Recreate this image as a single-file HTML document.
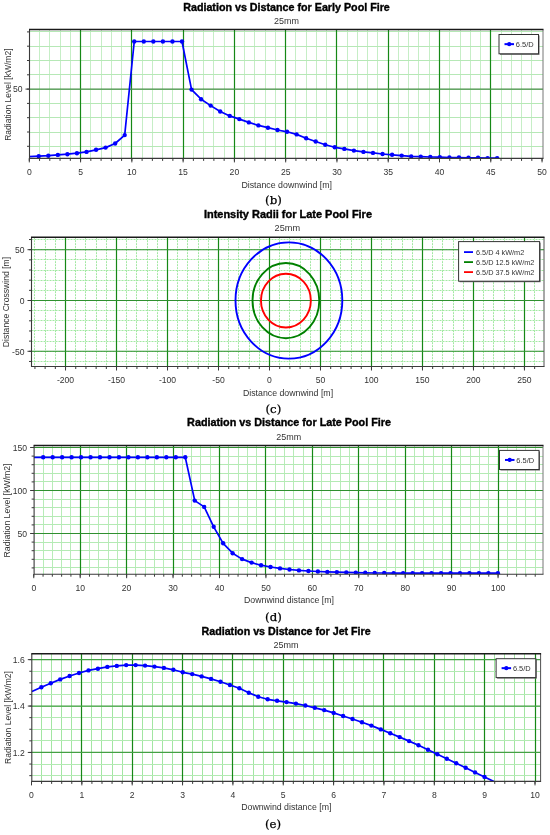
<!DOCTYPE html>
<html><head><meta charset="utf-8"><title>Charts</title><style>html,body{margin:0;padding:0;background:#fff;width:550px;height:835px;overflow:hidden}
svg{display:block}
.tt{font-family:'Liberation Sans', Arial, sans-serif;font-weight:bold;font-size:10px;fill:#000;stroke:#000;stroke-width:0.35px}
.st{font-family:'Liberation Sans', Arial, sans-serif;font-size:9px;fill:#333}
.at{font-family:'Liberation Sans', Arial, sans-serif;font-size:9px;fill:#333}
.tl{font-family:'Liberation Sans', Arial, sans-serif;font-size:8.6px;fill:#333}
.lg{font-family:'Liberation Sans', Arial, sans-serif;font-size:7.7px;fill:#333}
.lg2{font-family:'Liberation Sans', Arial, sans-serif;font-size:7.3px;fill:#333}
.pl{font-family:'DejaVu Serif',serif;font-size:11.8px;fill:#000;stroke:#000;stroke-width:0.25px}
</style></head>
<body><svg width="550" height="835" viewBox="0 0 550 835"><rect width="550" height="835" fill="#fff"/><path d="M39.5 29.6V158.4M49.5 29.6V158.4M60.5 29.6V158.4M70.5 29.6V158.4M80.5 29.6V158.4M90.5 29.6V158.4M101.5 29.6V158.4M111.5 29.6V158.4M121.5 29.6V158.4M131.5 29.6V158.4M142.5 29.6V158.4M152.5 29.6V158.4M162.5 29.6V158.4M172.5 29.6V158.4M183.5 29.6V158.4M193.5 29.6V158.4M203.5 29.6V158.4M213.5 29.6V158.4M224.5 29.6V158.4M234.5 29.6V158.4M244.5 29.6V158.4M254.5 29.6V158.4M265.5 29.6V158.4M275.5 29.6V158.4M285.5 29.6V158.4M295.5 29.6V158.4M306.5 29.6V158.4M316.5 29.6V158.4M326.5 29.6V158.4M336.5 29.6V158.4M347.5 29.6V158.4M357.5 29.6V158.4M367.5 29.6V158.4M377.5 29.6V158.4M388.5 29.6V158.4M398.5 29.6V158.4M408.5 29.6V158.4M418.5 29.6V158.4M429.5 29.6V158.4M439.5 29.6V158.4M449.5 29.6V158.4M460.5 29.6V158.4M470.5 29.6V158.4M480.5 29.6V158.4M490.5 29.6V158.4M501.5 29.6V158.4M511.5 29.6V158.4M521.5 29.6V158.4M531.5 29.6V158.4" stroke="#c6eec6" stroke-width="1" fill="none" /><path d="M29.5 146.5H543M29.5 132.5H543M29.5 117.5H543M29.5 103.5H543M29.5 89.5H543M29.5 74.5H543M29.5 60.5H543M29.5 46.5H543M29.5 31.5H543" stroke="#b6e8b6" stroke-width="1" fill="none" /><path d="M80.5 29.6V158.4M131.5 29.6V158.4M183.5 29.6V158.4M234.5 29.6V158.4M285.5 29.6V158.4M336.5 29.6V158.4M388.5 29.6V158.4M439.5 29.6V158.4M490.5 29.6V158.4" stroke="#168816" stroke-width="1.2" fill="none"/><path d="M29.5 89.1H543" stroke="#4a904a" stroke-width="1.1" fill="none"/><path d="M29.3 158.4v2.5M39.55 158.4v2.5M49.81 158.4v2.5M60.06 158.4v2.5M70.32 158.4v2.5M80.58 158.4v2.5M90.83 158.4v2.5M101.09 158.4v2.5M111.34 158.4v2.5M121.59 158.4v2.5M131.85 158.4v2.5M142.11 158.4v2.5M152.36 158.4v2.5M162.62 158.4v2.5M172.87 158.4v2.5M183.13 158.4v2.5M193.38 158.4v2.5M203.64 158.4v2.5M213.89 158.4v2.5M224.15 158.4v2.5M234.4 158.4v2.5M244.66 158.4v2.5M254.91 158.4v2.5M265.17 158.4v2.5M275.42 158.4v2.5M285.68 158.4v2.5M295.93 158.4v2.5M306.19 158.4v2.5M316.44 158.4v2.5M326.7 158.4v2.5M336.95 158.4v2.5M347.21 158.4v2.5M357.46 158.4v2.5M367.72 158.4v2.5M377.97 158.4v2.5M388.23 158.4v2.5M398.48 158.4v2.5M408.74 158.4v2.5M418.99 158.4v2.5M429.25 158.4v2.5M439.5 158.4v2.5M449.76 158.4v2.5M460.01 158.4v2.5M470.27 158.4v2.5M480.52 158.4v2.5M490.78 158.4v2.5M501.03 158.4v2.5M511.29 158.4v2.5M521.54 158.4v2.5M531.8 158.4v2.5M542.05 158.4v2.5M29.3 158.4v4M80.58 158.4v4M131.85 158.4v4M183.13 158.4v4M234.4 158.4v4M285.68 158.4v4M336.95 158.4v4M388.23 158.4v4M439.5 158.4v4M490.78 158.4v4M542.05 158.4v4M29.5 146.3h-2.5M29.5 132h-2.5M29.5 117.7h-2.5M29.5 103.4h-2.5M29.5 89.1h-2.5M29.5 74.8h-2.5M29.5 60.5h-2.5M29.5 46.2h-2.5M29.5 31.9h-2.5M29.5 89.1h-4" stroke="#3a3a3a" stroke-width="1" fill="none"/><clipPath id="c1"><rect x="29.5" y="29.5" width="513.5" height="128.9"/></clipPath><g clip-path="url(#c1)"><path d="M29.2 156.7 L38.75 156.2 L48.3 155.7 L57.85 154.9 L67.4 154.2 L76.95 153.2 L86.5 151.9 L96.05 149.8 L105.6 147.6 L115.15 143.5 L124.7 135.1 L134.25 41.5 L143.8 41.5 L153.35 41.5 L162.9 41.5 L172.45 41.5 L182 41.5 L191.55 89.6 L201.1 99.2 L210.65 105.6 L220.2 111.5 L229.75 115.9 L239.3 119.1 L248.85 122.4 L258.4 125.4 L267.95 127.7 L277.5 130 L287.05 131.8 L296.6 134.4 L306.15 138.2 L315.7 141.5 L325.25 144.8 L334.8 147.3 L344.35 148.9 L353.9 150.6 L363.45 151.9 L373 152.9 L382.55 154 L392.1 154.8 L401.65 155.6 L411.2 156.4 L420.75 156.7 L430.3 157 L439.85 157.2 L449.4 157.5 L458.95 157.5 L468.5 157.8 L478.05 157.8 L487.6 158.1 L497.15 158.1" stroke="#0000ff" stroke-width="1.7" fill="none" stroke-linejoin="round"/><circle cx="38.75" cy="156.2" r="2.2" fill="#0000ff"/><circle cx="48.3" cy="155.7" r="2.2" fill="#0000ff"/><circle cx="57.85" cy="154.9" r="2.2" fill="#0000ff"/><circle cx="67.4" cy="154.2" r="2.2" fill="#0000ff"/><circle cx="76.95" cy="153.2" r="2.2" fill="#0000ff"/><circle cx="86.5" cy="151.9" r="2.2" fill="#0000ff"/><circle cx="96.05" cy="149.8" r="2.2" fill="#0000ff"/><circle cx="105.6" cy="147.6" r="2.2" fill="#0000ff"/><circle cx="115.15" cy="143.5" r="2.2" fill="#0000ff"/><circle cx="124.7" cy="135.1" r="2.2" fill="#0000ff"/><circle cx="134.25" cy="41.5" r="2.2" fill="#0000ff"/><circle cx="143.8" cy="41.5" r="2.2" fill="#0000ff"/><circle cx="153.35" cy="41.5" r="2.2" fill="#0000ff"/><circle cx="162.9" cy="41.5" r="2.2" fill="#0000ff"/><circle cx="172.45" cy="41.5" r="2.2" fill="#0000ff"/><circle cx="182" cy="41.5" r="2.2" fill="#0000ff"/><circle cx="191.55" cy="89.6" r="2.2" fill="#0000ff"/><circle cx="201.1" cy="99.2" r="2.2" fill="#0000ff"/><circle cx="210.65" cy="105.6" r="2.2" fill="#0000ff"/><circle cx="220.2" cy="111.5" r="2.2" fill="#0000ff"/><circle cx="229.75" cy="115.9" r="2.2" fill="#0000ff"/><circle cx="239.3" cy="119.1" r="2.2" fill="#0000ff"/><circle cx="248.85" cy="122.4" r="2.2" fill="#0000ff"/><circle cx="258.4" cy="125.4" r="2.2" fill="#0000ff"/><circle cx="267.95" cy="127.7" r="2.2" fill="#0000ff"/><circle cx="277.5" cy="130" r="2.2" fill="#0000ff"/><circle cx="287.05" cy="131.8" r="2.2" fill="#0000ff"/><circle cx="296.6" cy="134.4" r="2.2" fill="#0000ff"/><circle cx="306.15" cy="138.2" r="2.2" fill="#0000ff"/><circle cx="315.7" cy="141.5" r="2.2" fill="#0000ff"/><circle cx="325.25" cy="144.8" r="2.2" fill="#0000ff"/><circle cx="334.8" cy="147.3" r="2.2" fill="#0000ff"/><circle cx="344.35" cy="148.9" r="2.2" fill="#0000ff"/><circle cx="353.9" cy="150.6" r="2.2" fill="#0000ff"/><circle cx="363.45" cy="151.9" r="2.2" fill="#0000ff"/><circle cx="373" cy="152.9" r="2.2" fill="#0000ff"/><circle cx="382.55" cy="154" r="2.2" fill="#0000ff"/><circle cx="392.1" cy="154.8" r="2.2" fill="#0000ff"/><circle cx="401.65" cy="155.6" r="2.2" fill="#0000ff"/><circle cx="411.2" cy="156.4" r="2.2" fill="#0000ff"/><circle cx="420.75" cy="156.7" r="2.2" fill="#0000ff"/><circle cx="430.3" cy="157" r="2.2" fill="#0000ff"/><circle cx="439.85" cy="157.2" r="2.2" fill="#0000ff"/><circle cx="449.4" cy="157.5" r="2.2" fill="#0000ff"/><circle cx="458.95" cy="157.5" r="2.2" fill="#0000ff"/><circle cx="468.5" cy="157.8" r="2.2" fill="#0000ff"/><circle cx="478.05" cy="157.8" r="2.2" fill="#0000ff"/><circle cx="487.6" cy="158.1" r="2.2" fill="#0000ff"/><circle cx="497.15" cy="158.1" r="2.2" fill="#0000ff"/></g><path d="M543 29.6V158.4" stroke="#777" stroke-width="1"/><path d="M29.5 29.6V158.4H543.5" stroke="#3a3a3a" stroke-width="1.1" fill="none"/><path d="M29 29.6H543.5" stroke="#1a1a1a" stroke-width="1.5"/><text x="29.3" y="174.7" text-anchor="middle" class="tl">0</text><text x="80.58" y="174.7" text-anchor="middle" class="tl">5</text><text x="131.85" y="174.7" text-anchor="middle" class="tl">10</text><text x="183.13" y="174.7" text-anchor="middle" class="tl">15</text><text x="234.4" y="174.7" text-anchor="middle" class="tl">20</text><text x="285.68" y="174.7" text-anchor="middle" class="tl">25</text><text x="336.95" y="174.7" text-anchor="middle" class="tl">30</text><text x="388.23" y="174.7" text-anchor="middle" class="tl">35</text><text x="439.5" y="174.7" text-anchor="middle" class="tl">40</text><text x="490.78" y="174.7" text-anchor="middle" class="tl">45</text><text x="542.05" y="174.7" text-anchor="middle" class="tl">50</text><text x="22.5" y="92.3" text-anchor="end" class="tl">50</text><text x="183.2" y="10.9" textLength="206.6" lengthAdjust="spacingAndGlyphs" class="tt">Radiation vs Distance for Early Pool Fire</text><text x="274" y="23.6" textLength="24.9" lengthAdjust="spacingAndGlyphs" class="st">25mm</text><text x="241.4" y="187.7" textLength="90.6" lengthAdjust="spacingAndGlyphs" class="at">Distance downwind [m]</text><text transform="translate(11.2 140.8) rotate(-90)" x="0" y="0" textLength="92.3" lengthAdjust="spacingAndGlyphs" class="at">Radiation Level [kW/m2]</text><text x="273.5" y="203.6" text-anchor="middle" class="pl">(b)</text><rect x="500" y="35.5" width="39.5" height="19.3" fill="#666"/><rect x="499" y="34.5" width="39.5" height="19.3" fill="#fff" stroke="#333" stroke-width="1"/><path d="M504.5 44.15H514" stroke="#0000ff" stroke-width="2"/><circle cx="509.2" cy="44.15" r="2.1" fill="#0000ff"/><text x="515.8" y="46.95" textLength="17.8" lengthAdjust="spacingAndGlyphs" class="lg">6.5/D</text><path d="M34.5 237.2V366.5M45.5 237.2V366.5M55.5 237.2V366.5M65.5 237.2V366.5M75.5 237.2V366.5M85.5 237.2V366.5M96.5 237.2V366.5M106.5 237.2V366.5M116.5 237.2V366.5M126.5 237.2V366.5M136.5 237.2V366.5M147.5 237.2V366.5M157.5 237.2V366.5M167.5 237.2V366.5M177.5 237.2V366.5M187.5 237.2V366.5M198.5 237.2V366.5M208.5 237.2V366.5M218.5 237.2V366.5M228.5 237.2V366.5M238.5 237.2V366.5M249.5 237.2V366.5M259.5 237.2V366.5M269.5 237.2V366.5M279.5 237.2V366.5M289.5 237.2V366.5M300.5 237.2V366.5M310.5 237.2V366.5M320.5 237.2V366.5M330.5 237.2V366.5M340.5 237.2V366.5M351.5 237.2V366.5M361.5 237.2V366.5M371.5 237.2V366.5M381.5 237.2V366.5M391.5 237.2V366.5M402.5 237.2V366.5M412.5 237.2V366.5M422.5 237.2V366.5M432.5 237.2V366.5M442.5 237.2V366.5M453.5 237.2V366.5M463.5 237.2V366.5M473.5 237.2V366.5M483.5 237.2V366.5M493.5 237.2V366.5M504.5 237.2V366.5M514.5 237.2V366.5M524.5 237.2V366.5M534.5 237.2V366.5" stroke="#a2e8a2" stroke-width="1" fill="none" stroke-dasharray="2 1"/><path d="M31.5 361.5H544M31.5 351.5H544M31.5 341.5H544M31.5 330.5H544M31.5 320.5H544M31.5 310.5H544M31.5 300.5H544M31.5 290.5H544M31.5 280.5H544M31.5 270.5H544M31.5 259.5H544M31.5 249.5H544M31.5 239.5H544" stroke="#a2e8a2" stroke-width="1" fill="none" stroke-dasharray="2 1"/><path d="M65.5 237.2V366.5M116.5 237.2V366.5M167.5 237.2V366.5M218.5 237.2V366.5M269.5 237.2V366.5M320.5 237.2V366.5M371.5 237.2V366.5M422.5 237.2V366.5M473.5 237.2V366.5M524.5 237.2V366.5" stroke="#168816" stroke-width="1.2" fill="none"/><path d="M31.5 351.3H544M31.5 300.5H544M31.5 249.7H544" stroke="#2f8f2f" stroke-width="1.1" fill="none"/><path d="M34.95 366.5v2.5M45.14 366.5v2.5M55.34 366.5v2.5M65.54 366.5v2.5M75.74 366.5v2.5M85.94 366.5v2.5M96.13 366.5v2.5M106.33 366.5v2.5M116.53 366.5v2.5M126.73 366.5v2.5M136.93 366.5v2.5M147.12 366.5v2.5M157.32 366.5v2.5M167.52 366.5v2.5M177.72 366.5v2.5M187.92 366.5v2.5M198.11 366.5v2.5M208.31 366.5v2.5M218.51 366.5v2.5M228.71 366.5v2.5M238.91 366.5v2.5M249.1 366.5v2.5M259.3 366.5v2.5M269.5 366.5v2.5M279.7 366.5v2.5M289.9 366.5v2.5M300.09 366.5v2.5M310.29 366.5v2.5M320.49 366.5v2.5M330.69 366.5v2.5M340.89 366.5v2.5M351.08 366.5v2.5M361.28 366.5v2.5M371.48 366.5v2.5M381.68 366.5v2.5M391.88 366.5v2.5M402.07 366.5v2.5M412.27 366.5v2.5M422.47 366.5v2.5M432.67 366.5v2.5M442.87 366.5v2.5M453.06 366.5v2.5M463.26 366.5v2.5M473.46 366.5v2.5M483.66 366.5v2.5M493.86 366.5v2.5M504.05 366.5v2.5M514.25 366.5v2.5M524.45 366.5v2.5M534.65 366.5v2.5M65.54 366.5v4M116.53 366.5v4M167.52 366.5v4M218.51 366.5v4M269.5 366.5v4M320.49 366.5v4M371.48 366.5v4M422.47 366.5v4M473.46 366.5v4M524.45 366.5v4M31.5 361.46h-2.5M31.5 351.3h-2.5M31.5 341.14h-2.5M31.5 330.98h-2.5M31.5 320.82h-2.5M31.5 310.66h-2.5M31.5 300.5h-2.5M31.5 290.34h-2.5M31.5 280.18h-2.5M31.5 270.02h-2.5M31.5 259.86h-2.5M31.5 249.7h-2.5M31.5 239.54h-2.5M31.5 351.3h-4M31.5 300.5h-4M31.5 249.7h-4" stroke="#3a3a3a" stroke-width="1" fill="none"/><ellipse cx="288.9" cy="300.5" rx="53.4" ry="58.1" fill="none" stroke="#0000ff" stroke-width="1.9"/><ellipse cx="285.9" cy="300.6" rx="33.4" ry="37.6" fill="none" stroke="#008000" stroke-width="1.9"/><ellipse cx="285.9" cy="300.6" rx="24.95" ry="26.85" fill="none" stroke="#ff0000" stroke-width="1.9"/><path d="M544 237.2V366.5" stroke="#505050" stroke-width="1"/><path d="M31.5 237.2V366.5H544.5" stroke="#3a3a3a" stroke-width="1.1" fill="none"/><path d="M31 237.2H544.5" stroke="#1a1a1a" stroke-width="1.5"/><text x="65.54" y="382.9" text-anchor="middle" class="tl">-200</text><text x="116.53" y="382.9" text-anchor="middle" class="tl">-150</text><text x="167.52" y="382.9" text-anchor="middle" class="tl">-100</text><text x="218.51" y="382.9" text-anchor="middle" class="tl">-50</text><text x="269.5" y="382.9" text-anchor="middle" class="tl">0</text><text x="320.49" y="382.9" text-anchor="middle" class="tl">50</text><text x="371.48" y="382.9" text-anchor="middle" class="tl">100</text><text x="422.47" y="382.9" text-anchor="middle" class="tl">150</text><text x="473.46" y="382.9" text-anchor="middle" class="tl">200</text><text x="524.45" y="382.9" text-anchor="middle" class="tl">250</text><text x="24.5" y="252.9" text-anchor="end" class="tl">50</text><text x="24.5" y="303.7" text-anchor="end" class="tl">0</text><text x="24.5" y="354.5" text-anchor="end" class="tl">-50</text><text x="203.9" y="218.4" textLength="168.1" lengthAdjust="spacingAndGlyphs" class="tt">Intensity Radii for Late Pool Fire</text><text x="274.6" y="231.3" textLength="25.5" lengthAdjust="spacingAndGlyphs" class="st">25mm</text><text x="242.9" y="395.6" textLength="90.2" lengthAdjust="spacingAndGlyphs" class="at">Distance downwind [m]</text><text transform="translate(8.9 347.2) rotate(-90)" x="0" y="0" textLength="90.3" lengthAdjust="spacingAndGlyphs" class="at">Distance Crosswind [m]</text><text x="273.4" y="413.2" text-anchor="middle" class="pl">(c)</text><rect x="459.6" y="242.6" width="81" height="39.6" fill="#666"/><rect x="458.6" y="241.6" width="81" height="39.6" fill="#fff" stroke="#333" stroke-width="1"/><path d="M464 252.1H473" stroke="#0000ff" stroke-width="1.8"/><text x="476" y="255" class="lg2">6.5/D 4 kW/m2</text><path d="M464 262.1H473" stroke="#008000" stroke-width="1.8"/><text x="476" y="265" class="lg2">6.5/D 12.5 kW/m2</text><path d="M464 272.1H473" stroke="#ff0000" stroke-width="1.8"/><text x="476" y="275" class="lg2">6.5/D 37.5 kW/m2</text><path d="M43.5 445.6V574.2M52.5 445.6V574.2M61.5 445.6V574.2M70.5 445.6V574.2M80.5 445.6V574.2M89.5 445.6V574.2M98.5 445.6V574.2M108.5 445.6V574.2M117.5 445.6V574.2M126.5 445.6V574.2M135.5 445.6V574.2M145.5 445.6V574.2M154.5 445.6V574.2M163.5 445.6V574.2M173.5 445.6V574.2M182.5 445.6V574.2M191.5 445.6V574.2M200.5 445.6V574.2M210.5 445.6V574.2M219.5 445.6V574.2M228.5 445.6V574.2M238.5 445.6V574.2M247.5 445.6V574.2M256.5 445.6V574.2M265.5 445.6V574.2M275.5 445.6V574.2M284.5 445.6V574.2M293.5 445.6V574.2M303.5 445.6V574.2M312.5 445.6V574.2M321.5 445.6V574.2M330.5 445.6V574.2M340.5 445.6V574.2M349.5 445.6V574.2M358.5 445.6V574.2M368.5 445.6V574.2M377.5 445.6V574.2M386.5 445.6V574.2M395.5 445.6V574.2M405.5 445.6V574.2M414.5 445.6V574.2M423.5 445.6V574.2M433.5 445.6V574.2M442.5 445.6V574.2M451.5 445.6V574.2M460.5 445.6V574.2M470.5 445.6V574.2M479.5 445.6V574.2M488.5 445.6V574.2M498.5 445.6V574.2M507.5 445.6V574.2M516.5 445.6V574.2M525.5 445.6V574.2M535.5 445.6V574.2" stroke="#b8ecb8" stroke-width="1" fill="none" /><path d="M34.1 567.5H543M34.1 559.5H543M34.1 550.5H543M34.1 542.5H543M34.1 533.5H543M34.1 524.5H543M34.1 516.5H543M34.1 507.5H543M34.1 499.5H543M34.1 490.5H543M34.1 481.5H543M34.1 473.5H543M34.1 464.5H543M34.1 456.5H543M34.1 447.5H543" stroke="#b4eab4" stroke-width="1" fill="none" /><path d="M80.5 445.6V574.2M126.5 445.6V574.2M173.5 445.6V574.2M219.5 445.6V574.2M265.5 445.6V574.2M312.5 445.6V574.2M358.5 445.6V574.2M405.5 445.6V574.2M451.5 445.6V574.2M498.5 445.6V574.2" stroke="#168816" stroke-width="1.2" fill="none"/><path d="M34.1 533.5H543M34.1 490.5H543M34.1 447.5H543" stroke="#2f8f2f" stroke-width="1.1" fill="none"/><path d="M33.77 574.2v2.5M43.06 574.2v2.5M52.34 574.2v2.5M61.63 574.2v2.5M70.91 574.2v2.5M80.2 574.2v2.5M89.49 574.2v2.5M98.77 574.2v2.5M108.06 574.2v2.5M117.34 574.2v2.5M126.63 574.2v2.5M135.92 574.2v2.5M145.2 574.2v2.5M154.49 574.2v2.5M163.77 574.2v2.5M173.06 574.2v2.5M182.35 574.2v2.5M191.63 574.2v2.5M200.92 574.2v2.5M210.2 574.2v2.5M219.49 574.2v2.5M228.78 574.2v2.5M238.06 574.2v2.5M247.35 574.2v2.5M256.63 574.2v2.5M265.92 574.2v2.5M275.21 574.2v2.5M284.49 574.2v2.5M293.78 574.2v2.5M303.06 574.2v2.5M312.35 574.2v2.5M321.64 574.2v2.5M330.92 574.2v2.5M340.21 574.2v2.5M349.49 574.2v2.5M358.78 574.2v2.5M368.07 574.2v2.5M377.35 574.2v2.5M386.64 574.2v2.5M395.92 574.2v2.5M405.21 574.2v2.5M414.5 574.2v2.5M423.78 574.2v2.5M433.07 574.2v2.5M442.35 574.2v2.5M451.64 574.2v2.5M460.93 574.2v2.5M470.21 574.2v2.5M479.5 574.2v2.5M488.78 574.2v2.5M498.07 574.2v2.5M507.36 574.2v2.5M516.64 574.2v2.5M525.93 574.2v2.5M535.21 574.2v2.5M33.77 574.2v4M80.2 574.2v4M126.63 574.2v4M173.06 574.2v4M219.49 574.2v4M265.92 574.2v4M312.35 574.2v4M358.78 574.2v4M405.21 574.2v4M451.64 574.2v4M498.07 574.2v4M34.1 567.9h-2.5M34.1 559.3h-2.5M34.1 550.7h-2.5M34.1 542.1h-2.5M34.1 533.5h-2.5M34.1 524.9h-2.5M34.1 516.3h-2.5M34.1 507.7h-2.5M34.1 499.1h-2.5M34.1 490.5h-2.5M34.1 481.9h-2.5M34.1 473.3h-2.5M34.1 464.7h-2.5M34.1 456.1h-2.5M34.1 447.5h-2.5M34.1 533.5h-4M34.1 490.5h-4M34.1 447.5h-4" stroke="#3a3a3a" stroke-width="1" fill="none"/><clipPath id="c3"><rect x="33.7" y="445.5" width="509.3" height="128.7"/></clipPath><g clip-path="url(#c3)"><path d="M33.7 457.3 L43.17 457.3 L52.65 457.3 L62.12 457.3 L71.59 457.3 L81.06 457.3 L90.54 457.3 L100.01 457.3 L109.48 457.3 L118.96 457.3 L128.43 457.3 L137.9 457.3 L147.38 457.3 L156.85 457.3 L166.32 457.3 L175.8 457.3 L185.27 457.3 L194.74 500.6 L204.21 506.9 L213.69 526.8 L223.16 543.3 L232.63 553.2 L242.11 559.1 L251.58 562.6 L261.05 565.2 L270.53 567 L280 568.4 L289.47 569.5 L298.94 570.4 L308.42 571 L317.89 571.5 L327.36 571.9 L336.84 572.1 L346.31 572.4 L355.78 572.6 L365.25 572.8 L374.73 573 L384.2 573 L393.67 573.2 L403.15 573.2 L412.62 573.2 L422.09 573.2 L431.57 573.2 L441.04 573.2 L450.51 573.2 L459.99 573.2 L469.46 573.2 L478.93 573.2 L488.4 573.2 L497.88 573.2" stroke="#0000ff" stroke-width="1.7" fill="none" stroke-linejoin="round"/><circle cx="43.17" cy="457.3" r="2.2" fill="#0000ff"/><circle cx="52.65" cy="457.3" r="2.2" fill="#0000ff"/><circle cx="62.12" cy="457.3" r="2.2" fill="#0000ff"/><circle cx="71.59" cy="457.3" r="2.2" fill="#0000ff"/><circle cx="81.06" cy="457.3" r="2.2" fill="#0000ff"/><circle cx="90.54" cy="457.3" r="2.2" fill="#0000ff"/><circle cx="100.01" cy="457.3" r="2.2" fill="#0000ff"/><circle cx="109.48" cy="457.3" r="2.2" fill="#0000ff"/><circle cx="118.96" cy="457.3" r="2.2" fill="#0000ff"/><circle cx="128.43" cy="457.3" r="2.2" fill="#0000ff"/><circle cx="137.9" cy="457.3" r="2.2" fill="#0000ff"/><circle cx="147.38" cy="457.3" r="2.2" fill="#0000ff"/><circle cx="156.85" cy="457.3" r="2.2" fill="#0000ff"/><circle cx="166.32" cy="457.3" r="2.2" fill="#0000ff"/><circle cx="175.8" cy="457.3" r="2.2" fill="#0000ff"/><circle cx="185.27" cy="457.3" r="2.2" fill="#0000ff"/><circle cx="194.74" cy="500.6" r="2.2" fill="#0000ff"/><circle cx="204.21" cy="506.9" r="2.2" fill="#0000ff"/><circle cx="213.69" cy="526.8" r="2.2" fill="#0000ff"/><circle cx="223.16" cy="543.3" r="2.2" fill="#0000ff"/><circle cx="232.63" cy="553.2" r="2.2" fill="#0000ff"/><circle cx="242.11" cy="559.1" r="2.2" fill="#0000ff"/><circle cx="251.58" cy="562.6" r="2.2" fill="#0000ff"/><circle cx="261.05" cy="565.2" r="2.2" fill="#0000ff"/><circle cx="270.53" cy="567" r="2.2" fill="#0000ff"/><circle cx="280" cy="568.4" r="2.2" fill="#0000ff"/><circle cx="289.47" cy="569.5" r="2.2" fill="#0000ff"/><circle cx="298.94" cy="570.4" r="2.2" fill="#0000ff"/><circle cx="308.42" cy="571" r="2.2" fill="#0000ff"/><circle cx="317.89" cy="571.5" r="2.2" fill="#0000ff"/><circle cx="327.36" cy="571.9" r="2.2" fill="#0000ff"/><circle cx="336.84" cy="572.1" r="2.2" fill="#0000ff"/><circle cx="346.31" cy="572.4" r="2.2" fill="#0000ff"/><circle cx="355.78" cy="572.6" r="2.2" fill="#0000ff"/><circle cx="365.25" cy="572.8" r="2.2" fill="#0000ff"/><circle cx="374.73" cy="573" r="2.2" fill="#0000ff"/><circle cx="384.2" cy="573" r="2.2" fill="#0000ff"/><circle cx="393.67" cy="573.2" r="2.2" fill="#0000ff"/><circle cx="403.15" cy="573.2" r="2.2" fill="#0000ff"/><circle cx="412.62" cy="573.2" r="2.2" fill="#0000ff"/><circle cx="422.09" cy="573.2" r="2.2" fill="#0000ff"/><circle cx="431.57" cy="573.2" r="2.2" fill="#0000ff"/><circle cx="441.04" cy="573.2" r="2.2" fill="#0000ff"/><circle cx="450.51" cy="573.2" r="2.2" fill="#0000ff"/><circle cx="459.99" cy="573.2" r="2.2" fill="#0000ff"/><circle cx="469.46" cy="573.2" r="2.2" fill="#0000ff"/><circle cx="478.93" cy="573.2" r="2.2" fill="#0000ff"/><circle cx="488.4" cy="573.2" r="2.2" fill="#0000ff"/><circle cx="497.88" cy="573.2" r="2.2" fill="#0000ff"/></g><path d="M543 445.6V574.2" stroke="#777" stroke-width="1"/><path d="M34.1 445.6V574.2H543.5" stroke="#3a3a3a" stroke-width="1.1" fill="none"/><path d="M33.6 445.6H543.5" stroke="#1a1a1a" stroke-width="1.5"/><text x="33.77" y="591.2" text-anchor="middle" class="tl">0</text><text x="80.2" y="591.2" text-anchor="middle" class="tl">10</text><text x="126.63" y="591.2" text-anchor="middle" class="tl">20</text><text x="173.06" y="591.2" text-anchor="middle" class="tl">30</text><text x="219.49" y="591.2" text-anchor="middle" class="tl">40</text><text x="265.92" y="591.2" text-anchor="middle" class="tl">50</text><text x="312.35" y="591.2" text-anchor="middle" class="tl">60</text><text x="358.78" y="591.2" text-anchor="middle" class="tl">70</text><text x="405.21" y="591.2" text-anchor="middle" class="tl">80</text><text x="451.64" y="591.2" text-anchor="middle" class="tl">90</text><text x="498.07" y="591.2" text-anchor="middle" class="tl">100</text><text x="27.1" y="536.7" text-anchor="end" class="tl">50</text><text x="27.1" y="493.7" text-anchor="end" class="tl">100</text><text x="27.1" y="450.7" text-anchor="end" class="tl">150</text><text x="187.1" y="426.4" textLength="203.9" lengthAdjust="spacingAndGlyphs" class="tt">Radiation vs Distance for Late Pool Fire</text><text x="276.3" y="439.9" textLength="24.9" lengthAdjust="spacingAndGlyphs" class="st">25mm</text><text x="244" y="603.4" textLength="90" lengthAdjust="spacingAndGlyphs" class="at">Downwind distance [m]</text><text transform="translate(9.9 557.4) rotate(-90)" x="0" y="0" textLength="93.9" lengthAdjust="spacingAndGlyphs" class="at">Radiation Level [kW/m2]</text><text x="273.5" y="620.6" text-anchor="middle" class="pl">(d)</text><rect x="500.5" y="451.4" width="39.5" height="19.1" fill="#666"/><rect x="499.5" y="450.4" width="39.5" height="19.1" fill="#fff" stroke="#333" stroke-width="1"/><path d="M505 459.95H514.5" stroke="#0000ff" stroke-width="2"/><circle cx="509.7" cy="459.95" r="2.1" fill="#0000ff"/><text x="516.3" y="462.75" textLength="17.8" lengthAdjust="spacingAndGlyphs" class="lg">6.5/D</text><path d="M41.5 653.7V781.4M51.5 653.7V781.4M61.5 653.7V781.4M71.5 653.7V781.4M81.5 653.7V781.4M91.5 653.7V781.4M101.5 653.7V781.4M112.5 653.7V781.4M122.5 653.7V781.4M132.5 653.7V781.4M142.5 653.7V781.4M152.5 653.7V781.4M162.5 653.7V781.4M172.5 653.7V781.4M182.5 653.7V781.4M192.5 653.7V781.4M202.5 653.7V781.4M212.5 653.7V781.4M222.5 653.7V781.4M232.5 653.7V781.4M242.5 653.7V781.4M253.5 653.7V781.4M263.5 653.7V781.4M273.5 653.7V781.4M283.5 653.7V781.4M293.5 653.7V781.4M303.5 653.7V781.4M313.5 653.7V781.4M323.5 653.7V781.4M333.5 653.7V781.4M343.5 653.7V781.4M353.5 653.7V781.4M363.5 653.7V781.4M373.5 653.7V781.4M383.5 653.7V781.4M394.5 653.7V781.4M404.5 653.7V781.4M414.5 653.7V781.4M424.5 653.7V781.4M434.5 653.7V781.4M444.5 653.7V781.4M454.5 653.7V781.4M464.5 653.7V781.4M474.5 653.7V781.4M484.5 653.7V781.4M494.5 653.7V781.4M504.5 653.7V781.4M514.5 653.7V781.4M524.5 653.7V781.4M535.5 653.7V781.4" stroke="#a2e6a2" stroke-width="1" fill="none" /><path d="M31.8 775.5H540.6M31.8 764.5H540.6M31.8 752.5H540.6M31.8 740.5H540.6M31.8 729.5H540.6M31.8 717.5H540.6M31.8 706.5H540.6M31.8 694.5H540.6M31.8 682.5H540.6M31.8 671.5H540.6M31.8 659.5H540.6" stroke="#b2eab2" stroke-width="1" fill="none" /><path d="M81.5 653.7V781.4M132.5 653.7V781.4M182.5 653.7V781.4M232.5 653.7V781.4M283.5 653.7V781.4M333.5 653.7V781.4M383.5 653.7V781.4M434.5 653.7V781.4M484.5 653.7V781.4M535.5 653.7V781.4" stroke="#168816" stroke-width="1.2" fill="none"/><path d="M31.8 752.45H540.6M31.8 706.05H540.6M31.8 659.65H540.6" stroke="#44a044" stroke-width="1.2" fill="none"/><path d="M31.5 781.4v2.5M41.57 781.4v2.5M51.64 781.4v2.5M61.71 781.4v2.5M71.78 781.4v2.5M81.85 781.4v2.5M91.92 781.4v2.5M101.99 781.4v2.5M112.06 781.4v2.5M122.13 781.4v2.5M132.2 781.4v2.5M142.27 781.4v2.5M152.34 781.4v2.5M162.41 781.4v2.5M172.48 781.4v2.5M182.55 781.4v2.5M192.62 781.4v2.5M202.69 781.4v2.5M212.76 781.4v2.5M222.83 781.4v2.5M232.9 781.4v2.5M242.97 781.4v2.5M253.04 781.4v2.5M263.11 781.4v2.5M273.18 781.4v2.5M283.25 781.4v2.5M293.32 781.4v2.5M303.39 781.4v2.5M313.46 781.4v2.5M323.53 781.4v2.5M333.6 781.4v2.5M343.67 781.4v2.5M353.74 781.4v2.5M363.81 781.4v2.5M373.88 781.4v2.5M383.95 781.4v2.5M394.02 781.4v2.5M404.09 781.4v2.5M414.16 781.4v2.5M424.23 781.4v2.5M434.3 781.4v2.5M444.37 781.4v2.5M454.44 781.4v2.5M464.51 781.4v2.5M474.58 781.4v2.5M484.65 781.4v2.5M494.72 781.4v2.5M504.79 781.4v2.5M514.86 781.4v2.5M524.93 781.4v2.5M535 781.4v2.5M31.5 781.4v4M81.85 781.4v4M132.2 781.4v4M182.55 781.4v4M232.9 781.4v4M283.25 781.4v4M333.6 781.4v4M383.95 781.4v4M434.3 781.4v4M484.65 781.4v4M535 781.4v4M31.8 775.65h-2.5M31.8 764.05h-2.5M31.8 752.45h-2.5M31.8 740.85h-2.5M31.8 729.25h-2.5M31.8 717.65h-2.5M31.8 706.05h-2.5M31.8 694.45h-2.5M31.8 682.85h-2.5M31.8 671.25h-2.5M31.8 659.65h-2.5M31.8 752.45h-4M31.8 706.05h-4M31.8 659.65h-4" stroke="#3a3a3a" stroke-width="1" fill="none"/><clipPath id="c4"><rect x="31.8" y="653.7" width="508.8" height="127.7"/></clipPath><g clip-path="url(#c4)"><path d="M31.9 691.6 L41.33 687.2 L50.76 683.2 L60.19 679.4 L69.62 676 L79.05 673 L88.48 670.4 L97.91 668.7 L107.34 666.9 L116.77 665.9 L126.2 665.1 L135.63 665.1 L145.06 665.6 L154.49 666.6 L163.92 667.9 L173.35 669.8 L182.78 672.3 L192.21 674.1 L201.64 676.4 L211.07 678.9 L220.5 681.7 L229.93 685 L239.36 688.3 L248.79 692.7 L258.22 696.7 L267.65 699.3 L277.08 700.8 L286.51 702.1 L295.94 703.6 L305.37 705.5 L314.8 707.8 L324.23 710.1 L333.66 712.9 L343.09 716 L352.52 719 L361.95 722.3 L371.38 725.6 L380.81 729.4 L390.24 733.3 L399.67 737.1 L409.1 741.1 L418.53 745.2 L427.96 749.7 L437.39 754.2 L446.82 758.7 L456.25 763.2 L465.68 767.7 L475.11 772.4 L484.54 776.9 L493.97 781.6" stroke="#0000ff" stroke-width="1.7" fill="none" stroke-linejoin="round"/><circle cx="41.33" cy="687.2" r="2.2" fill="#0000ff"/><circle cx="50.76" cy="683.2" r="2.2" fill="#0000ff"/><circle cx="60.19" cy="679.4" r="2.2" fill="#0000ff"/><circle cx="69.62" cy="676" r="2.2" fill="#0000ff"/><circle cx="79.05" cy="673" r="2.2" fill="#0000ff"/><circle cx="88.48" cy="670.4" r="2.2" fill="#0000ff"/><circle cx="97.91" cy="668.7" r="2.2" fill="#0000ff"/><circle cx="107.34" cy="666.9" r="2.2" fill="#0000ff"/><circle cx="116.77" cy="665.9" r="2.2" fill="#0000ff"/><circle cx="126.2" cy="665.1" r="2.2" fill="#0000ff"/><circle cx="135.63" cy="665.1" r="2.2" fill="#0000ff"/><circle cx="145.06" cy="665.6" r="2.2" fill="#0000ff"/><circle cx="154.49" cy="666.6" r="2.2" fill="#0000ff"/><circle cx="163.92" cy="667.9" r="2.2" fill="#0000ff"/><circle cx="173.35" cy="669.8" r="2.2" fill="#0000ff"/><circle cx="182.78" cy="672.3" r="2.2" fill="#0000ff"/><circle cx="192.21" cy="674.1" r="2.2" fill="#0000ff"/><circle cx="201.64" cy="676.4" r="2.2" fill="#0000ff"/><circle cx="211.07" cy="678.9" r="2.2" fill="#0000ff"/><circle cx="220.5" cy="681.7" r="2.2" fill="#0000ff"/><circle cx="229.93" cy="685" r="2.2" fill="#0000ff"/><circle cx="239.36" cy="688.3" r="2.2" fill="#0000ff"/><circle cx="248.79" cy="692.7" r="2.2" fill="#0000ff"/><circle cx="258.22" cy="696.7" r="2.2" fill="#0000ff"/><circle cx="267.65" cy="699.3" r="2.2" fill="#0000ff"/><circle cx="277.08" cy="700.8" r="2.2" fill="#0000ff"/><circle cx="286.51" cy="702.1" r="2.2" fill="#0000ff"/><circle cx="295.94" cy="703.6" r="2.2" fill="#0000ff"/><circle cx="305.37" cy="705.5" r="2.2" fill="#0000ff"/><circle cx="314.8" cy="707.8" r="2.2" fill="#0000ff"/><circle cx="324.23" cy="710.1" r="2.2" fill="#0000ff"/><circle cx="333.66" cy="712.9" r="2.2" fill="#0000ff"/><circle cx="343.09" cy="716" r="2.2" fill="#0000ff"/><circle cx="352.52" cy="719" r="2.2" fill="#0000ff"/><circle cx="361.95" cy="722.3" r="2.2" fill="#0000ff"/><circle cx="371.38" cy="725.6" r="2.2" fill="#0000ff"/><circle cx="380.81" cy="729.4" r="2.2" fill="#0000ff"/><circle cx="390.24" cy="733.3" r="2.2" fill="#0000ff"/><circle cx="399.67" cy="737.1" r="2.2" fill="#0000ff"/><circle cx="409.1" cy="741.1" r="2.2" fill="#0000ff"/><circle cx="418.53" cy="745.2" r="2.2" fill="#0000ff"/><circle cx="427.96" cy="749.7" r="2.2" fill="#0000ff"/><circle cx="437.39" cy="754.2" r="2.2" fill="#0000ff"/><circle cx="446.82" cy="758.7" r="2.2" fill="#0000ff"/><circle cx="456.25" cy="763.2" r="2.2" fill="#0000ff"/><circle cx="465.68" cy="767.7" r="2.2" fill="#0000ff"/><circle cx="475.11" cy="772.4" r="2.2" fill="#0000ff"/><circle cx="484.54" cy="776.9" r="2.2" fill="#0000ff"/></g><path d="M540.6 653.7V781.4" stroke="#505050" stroke-width="1"/><path d="M31.8 653.7V781.4H541.1" stroke="#3a3a3a" stroke-width="1.1" fill="none"/><path d="M31.3 653.7H541.1" stroke="#1a1a1a" stroke-width="1.5"/><text x="31.5" y="798" text-anchor="middle" class="tl">0</text><text x="81.85" y="798" text-anchor="middle" class="tl">1</text><text x="132.2" y="798" text-anchor="middle" class="tl">2</text><text x="182.55" y="798" text-anchor="middle" class="tl">3</text><text x="232.9" y="798" text-anchor="middle" class="tl">4</text><text x="283.25" y="798" text-anchor="middle" class="tl">5</text><text x="333.6" y="798" text-anchor="middle" class="tl">6</text><text x="383.95" y="798" text-anchor="middle" class="tl">7</text><text x="434.3" y="798" text-anchor="middle" class="tl">8</text><text x="484.65" y="798" text-anchor="middle" class="tl">9</text><text x="535" y="798" text-anchor="middle" class="tl">10</text><text x="24.8" y="755.65" text-anchor="end" class="tl">1.2</text><text x="24.8" y="709.25" text-anchor="end" class="tl">1.4</text><text x="24.8" y="662.85" text-anchor="end" class="tl">1.6</text><text x="201.5" y="634.7" textLength="169.2" lengthAdjust="spacingAndGlyphs" class="tt">Radiation vs Distance for Jet Fire</text><text x="273.5" y="647.7" textLength="25.1" lengthAdjust="spacingAndGlyphs" class="st">25mm</text><text x="241.2" y="810.4" textLength="90.2" lengthAdjust="spacingAndGlyphs" class="at">Downwind distance [m]</text><text transform="translate(11.1 764) rotate(-90)" x="0" y="0" textLength="93" lengthAdjust="spacingAndGlyphs" class="at">Radiation Level [kW/m2]</text><text x="273" y="828.4" text-anchor="middle" class="pl">(e)</text><rect x="497.1" y="659.7" width="39.7" height="18.9" fill="#666"/><rect x="496.1" y="658.7" width="39.7" height="18.9" fill="#fff" stroke="#333" stroke-width="1"/><path d="M501.6 668.15H511.1" stroke="#0000ff" stroke-width="2"/><circle cx="506.3" cy="668.15" r="2.1" fill="#0000ff"/><text x="512.9" y="670.95" textLength="17.8" lengthAdjust="spacingAndGlyphs" class="lg">6.5/D</text></svg></body></html>
